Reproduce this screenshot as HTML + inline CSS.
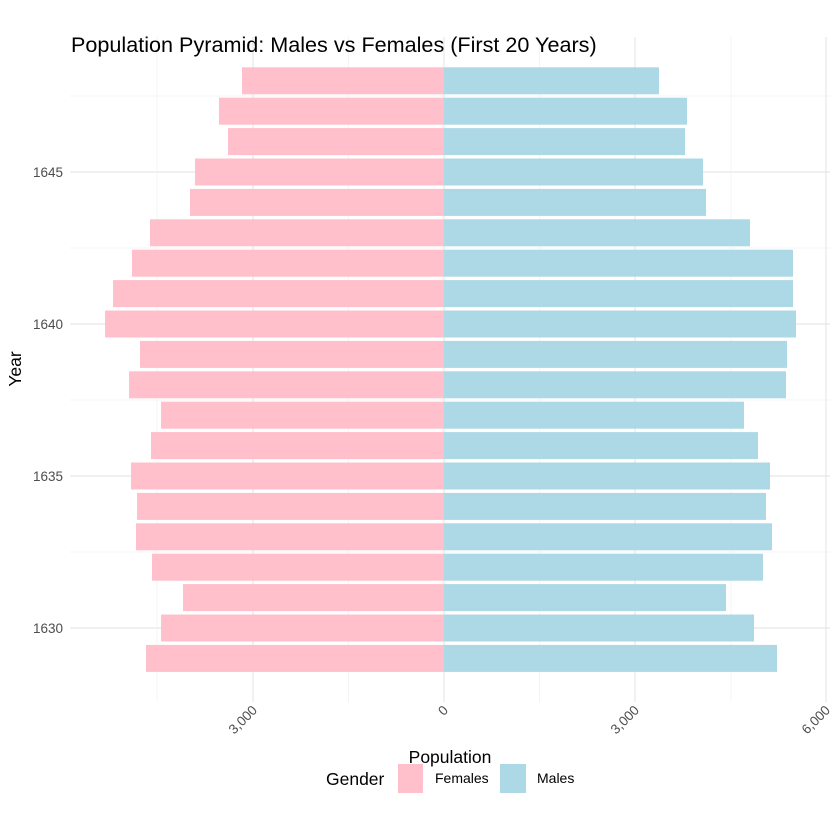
<!DOCTYPE html>
<html><head><meta charset="utf-8"><style>body{margin:0;background:#fff}svg{display:block}text{font-family:"Liberation Sans",sans-serif}</style></head><body>
<svg width="840" height="840" viewBox="0 0 840 840" xmlns="http://www.w3.org/2000/svg">
<rect width="840" height="840" fill="#fff"/>
<g stroke="#f0f0f0" stroke-width="0.7">
<line x1="157" y1="37" x2="157" y2="702"/><line x1="348.5" y1="37" x2="348.5" y2="702"/><line x1="539.5" y1="37" x2="539.5" y2="702"/><line x1="731" y1="37" x2="731" y2="702"/>
<line x1="70" y1="96" x2="830" y2="96"/><line x1="70" y1="248" x2="830" y2="248"/><line x1="70" y1="400" x2="830" y2="400"/><line x1="70" y1="552" x2="830" y2="552"/>
</g>
<g stroke="#ebebeb" stroke-width="1.4">
<line x1="253" y1="37" x2="253" y2="702"/><line x1="444" y1="37" x2="444" y2="702"/><line x1="635" y1="37" x2="635" y2="702"/><line x1="826" y1="37" x2="826" y2="702"/>
<line x1="70" y1="172" x2="830" y2="172"/><line x1="70" y1="324" x2="830" y2="324"/><line x1="70" y1="476" x2="830" y2="476"/><line x1="70" y1="628" x2="830" y2="628"/>
</g>
<g fill="#ffc0cb">
<rect x="242" y="67.3" width="202" height="27"/>
<rect x="219" y="97.7" width="225" height="27"/>
<rect x="228" y="128.1" width="216" height="27"/>
<rect x="195" y="158.5" width="249" height="27"/>
<rect x="190" y="188.9" width="254" height="27"/>
<rect x="150" y="219.3" width="294" height="27"/>
<rect x="132" y="249.7" width="312" height="27"/>
<rect x="113" y="280.1" width="331" height="27"/>
<rect x="105" y="310.5" width="339" height="27"/>
<rect x="140" y="340.9" width="304" height="27"/>
<rect x="129" y="371.3" width="315" height="27"/>
<rect x="161" y="401.7" width="283" height="27"/>
<rect x="151" y="432.1" width="293" height="27"/>
<rect x="131" y="462.5" width="313" height="27"/>
<rect x="137" y="492.9" width="307" height="27"/>
<rect x="136" y="523.3" width="308" height="27"/>
<rect x="152" y="553.7" width="292" height="27"/>
<rect x="183" y="584.1" width="261" height="27"/>
<rect x="161" y="614.5" width="283" height="27"/>
<rect x="146" y="644.9" width="298" height="27"/>
</g>
<g fill="#add8e6">
<rect x="444" y="67.3" width="215" height="27"/>
<rect x="444" y="97.7" width="243" height="27"/>
<rect x="444" y="128.1" width="241" height="27"/>
<rect x="444" y="158.5" width="259" height="27"/>
<rect x="444" y="188.9" width="262" height="27"/>
<rect x="444" y="219.3" width="306" height="27"/>
<rect x="444" y="249.7" width="349" height="27"/>
<rect x="444" y="280.1" width="349" height="27"/>
<rect x="444" y="310.5" width="352" height="27"/>
<rect x="444" y="340.9" width="343" height="27"/>
<rect x="444" y="371.3" width="342" height="27"/>
<rect x="444" y="401.7" width="300" height="27"/>
<rect x="444" y="432.1" width="314" height="27"/>
<rect x="444" y="462.5" width="326" height="27"/>
<rect x="444" y="492.9" width="322" height="27"/>
<rect x="444" y="523.3" width="328" height="27"/>
<rect x="444" y="553.7" width="319" height="27"/>
<rect x="444" y="584.1" width="282" height="27"/>
<rect x="444" y="614.5" width="310" height="27"/>
<rect x="444" y="644.9" width="333" height="27"/>
</g>
<text x="71" y="52" font-size="21.6" fill="#000">Population Pyramid: Males vs Females (First 20 Years)</text>
<g font-size="13.5" fill="#4d4d4d" text-anchor="end">
<text x="63" y="177">1645</text><text x="63" y="329">1640</text><text x="63" y="481">1635</text><text x="63" y="633">1630</text>
<text transform="translate(258,711) rotate(-45)">3,000</text>
<text transform="translate(449,711) rotate(-45)">0</text>
<text transform="translate(640,711) rotate(-45)">3,000</text>
<text transform="translate(831,711) rotate(-45)">6,000</text>
</g>
<text x="450" y="763" font-size="17.5" text-anchor="middle" fill="#000">Population</text>
<text transform="translate(21,369) rotate(-90)" font-size="17.5" text-anchor="middle" fill="#000">Year</text>
<text x="326" y="785" font-size="17.5" fill="#000">Gender</text>
<rect x="398" y="764" width="25" height="29" fill="#ffc0cb"/>
<text x="435" y="783" font-size="14" fill="#000">Females</text>
<rect x="500" y="764" width="26" height="29" fill="#add8e6"/>
<text x="537" y="783" font-size="14" fill="#000">Males</text>
</svg>
</body></html>
